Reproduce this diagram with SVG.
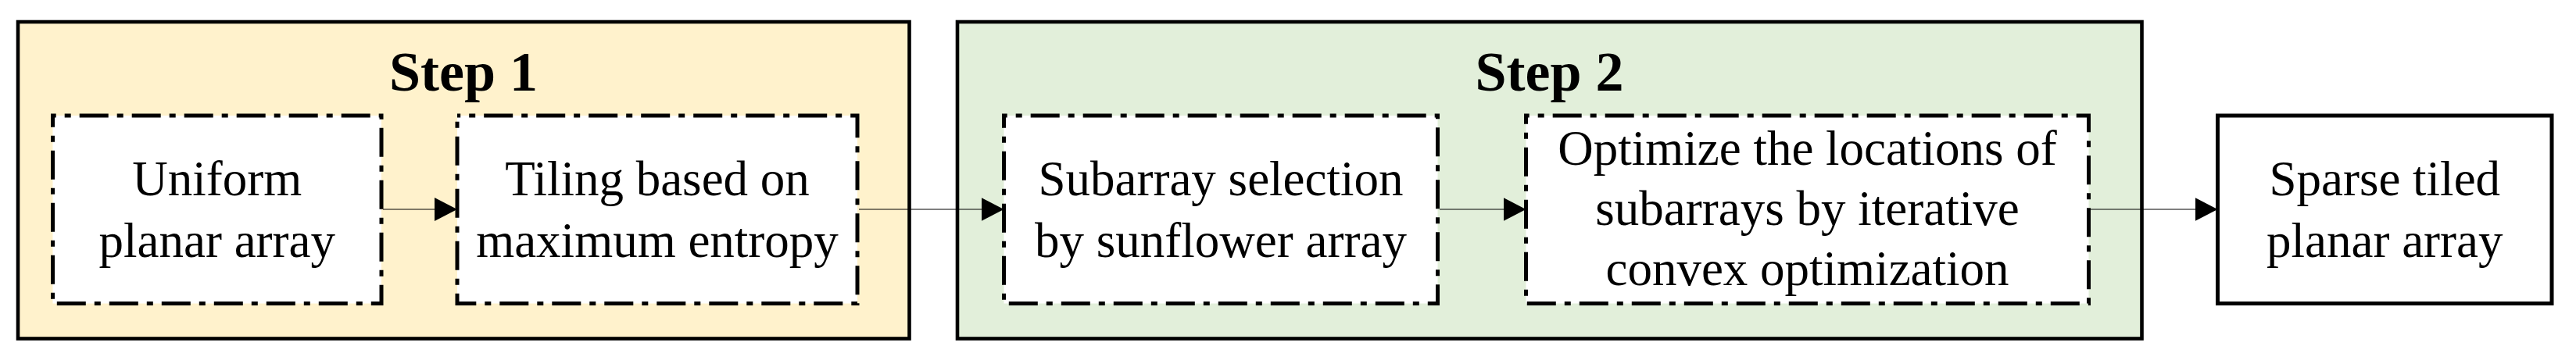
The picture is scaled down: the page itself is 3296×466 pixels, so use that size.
<svg xmlns="http://www.w3.org/2000/svg" width="3296" height="466" viewBox="0 0 3296 466">
<defs>
<style>
.bg{fill:#ffffff}
.stage{stroke:#000;stroke-width:4.6}
.s1{fill:#FFF2CC}
.s2{fill:#E2EFDA}
.proc{fill:#ffffff;stroke:#000;stroke-width:5;stroke-dasharray:37 11 8 11;stroke-dashoffset:32.8}
.out{fill:#ffffff;stroke:#000;stroke-width:5}
.lbl{font-family:"Liberation Serif","Times New Roman",serif;font-size:63px;fill:#000;text-anchor:middle}
.ttl{font-family:"Liberation Serif","Times New Roman",serif;font-size:72px;font-weight:bold;fill:#000;text-anchor:middle}
.edge{stroke:#000;stroke-width:1.2;fill:none}
</style>
<marker id="ah" markerUnits="userSpaceOnUse" markerWidth="30" markerHeight="30" refX="29" refY="15" orient="auto">
<path d="M0,0 L29,15 L0,30 z" fill="#000"/>
</marker>
</defs>
<rect class="bg" x="0" y="0" width="3296" height="466"/>
<g id="step1">
<rect class="stage s1" x="23" y="28" width="1140.5" height="405.5"/>
<text class="ttl" x="593" y="116">Step 1</text>
</g>
<g id="step2">
<rect class="stage s2" x="1225" y="28" width="1515.5" height="405.5"/>
<text class="ttl" x="1982.5" y="116">Step 2</text>
</g>
<g id="uniform">
<rect class="proc" x="67.5" y="148" width="420.5" height="240.5"/>
<text class="lbl" x="277.75" y="250">Uniform</text>
<text class="lbl" x="277.75" y="329">planar array</text>
</g>
<g id="tiling">
<rect class="proc" x="585" y="148" width="512" height="240.5"/>
<text class="lbl" x="841" y="250">Tiling based on</text>
<text class="lbl" x="841" y="329">maximum entropy</text>
</g>
<g id="selection">
<rect class="proc" x="1284.5" y="148" width="555" height="240.5"/>
<text class="lbl" x="1562" y="250">Subarray selection</text>
<text class="lbl" x="1562" y="329">by sunflower array</text>
</g>
<g id="optimize">
<rect class="proc" x="1952.5" y="148" width="720" height="240.5"/>
<text class="lbl" x="2312.5" y="211">Optimize the locations of</text>
<text class="lbl" x="2312.5" y="288">subarrays by iterative</text>
<text class="lbl" x="2312.5" y="365">convex optimization</text>
</g>
<g id="sparse">
<rect class="out" x="2837.5" y="148" width="427.5" height="240.5"/>
<text class="lbl" x="3051.25" y="250">Sparse tiled</text>
<text class="lbl" x="3051.25" y="329">planar array</text>
</g>
<g id="connectors">
<line class="edge" x1="490" y1="268" x2="585" y2="268" marker-end="url(#ah)"/>
<line class="edge" x1="1099" y1="268" x2="1284.5" y2="268" marker-end="url(#ah)"/>
<line class="edge" x1="1842" y1="268" x2="1952.5" y2="268" marker-end="url(#ah)"/>
<line class="edge" x1="2675" y1="268" x2="2837.5" y2="268" marker-end="url(#ah)"/>
</g>
</svg>
